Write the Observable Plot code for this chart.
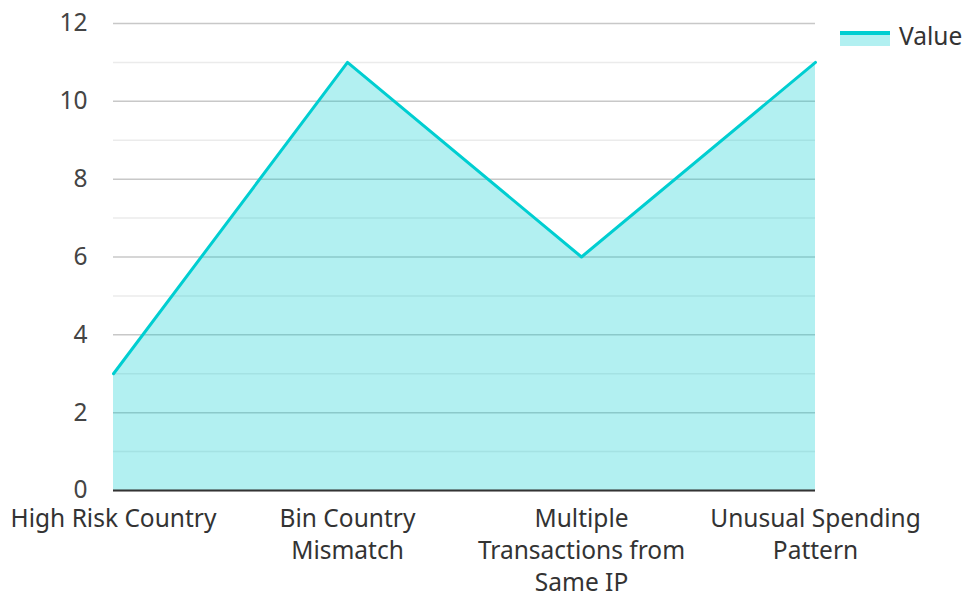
<!DOCTYPE html>
<html>
<head>
<meta charset="utf-8">
<script src="https://cdn.jsdelivr.net/npm/d3@7"></script>
<script src="https://cdn.jsdelivr.net/npm/@observablehq/plot@0.6"></script>
<style>
  html, body { margin: 0; padding: 0; background: #fff; }
  #wrap { position: relative; width: 964px; height: 594px; font-family: "Noto Sans", sans-serif; }
  #legend { position: absolute; left: 840px; top: 19px; display: flex; align-items: center; gap: 9px; font-size: 24.5px; color: #333; }
  #legend .sw { width: 50px; height: 16px; position: relative; }
  #legend .sw .ln { position: absolute; left: 0; top: 3px; width: 50px; height: 4px; background: #00CED1; }
  #legend .sw .fl { position: absolute; left: 0; top: 7px; width: 50px; height: 11px; background: rgba(0,206,209,0.3); }
</style>
</head>
<body>
<div id="wrap">
  <div id="chart"></div>
  <div id="legend"><div class="sw"><div class="ln"></div><div class="fl"></div></div><span>Value</span></div>
</div>
<script>
const categories = ["High Risk Country", "Bin Country Mismatch", "Multiple Transactions from Same IP", "Unusual Spending Pattern"];
const values = [3, 11, 6, 11];
const tickLabels = ["High Risk Country", "Bin Country\nMismatch", "Multiple\nTransactions from\nSame IP", "Unusual Spending\nPattern"];
const majorTicks = [0, 2, 4, 6, 8, 10, 12];
const minorTicks = [1, 3, 5, 7, 9, 11];

const data = categories.map((c, i) => ({category: c, value: values[i]}));
const labelOf = new Map(categories.map((c, i) => [c, tickLabels[i]]));

const chart = Plot.plot({
  width: 964,
  height: 594,
  marginLeft: 113,
  marginRight: 149,
  marginTop: 23,
  marginBottom: 104,
  style: {fontFamily: "Noto Sans, sans-serif", fontSize: "24.5px", color: "#444", background: "#fff"},
  x: {type: "point", domain: categories, padding: 0},
  y: {domain: [0, 12]},
  marks: [
    Plot.ruleY(minorTicks, {stroke: "#ebebeb", strokeWidth: 1.5}),
    Plot.ruleY(majorTicks, {stroke: "#c8c8c8", strokeWidth: 1.5}),
    Plot.areaY(data, {x: "category", y: "value", fill: "#00CED1", fillOpacity: 0.3}),
    Plot.lineY(data, {x: "category", y: "value", stroke: "#00CED1", strokeWidth: 3}),
    Plot.ruleY([0], {stroke: "#333", strokeWidth: 2}),
    Plot.axisY({ticks: majorTicks, tickSize: 0, tickPadding: 26, fontSize: 24.5, fill: "#444", label: null}),
    Plot.axisX({tickSize: 0, tickPadding: 14, fontSize: 24.5, fill: "#333", lineHeight: 1.3, label: null,
      tickFormat: d => labelOf.get(d)})
  ]
});
document.getElementById("chart").appendChild(chart);
</script>
</body>
</html>
